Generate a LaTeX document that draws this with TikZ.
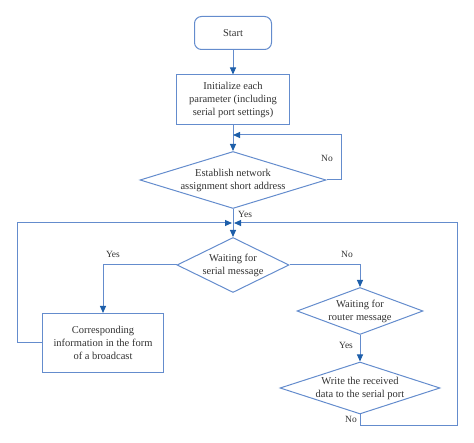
\documentclass[tikz,border=0pt]{standalone}
\usepackage{fontspec}
\setmainfont{Liberation Serif}
\usetikzlibrary{shapes.geometric,arrows.meta}
\definecolor{flowline}{RGB}{100,140,205}
\definecolor{flowtip}{RGB}{30,95,170}
\definecolor{flowtext}{RGB}{50,50,50}
\begin{document}
\begin{tikzpicture}[x=1pt,y=-1pt,
  box/.style={draw=flowline, line width=1pt, rectangle, align=center, inner sep=0pt,
    text=flowtext, font=\fontsize{10.5}{13}\selectfont},
  cond/.style={draw=flowline, line width=1pt, diamond, align=center,
    inner xsep=-16pt, inner ysep=-6pt, text=flowtext, font=\fontsize{10.5}{13}\selectfont},
  tag/.style={text=flowtext, inner sep=0pt, font=\fontsize{9.5}{11}\selectfont},
  flow/.style={draw=flowline, line width=1pt, -{Triangle[color=flowtip,length=7pt,width=6pt]}},
  link/.style={draw=flowline, line width=1pt}]
\useasboundingbox (0,0) rectangle (474,443);

% steps
\node[box, rounded corners=7pt, minimum width=77pt, minimum height=33pt] (start) at (233,33) {Start};
\node[box, minimum width=113pt, minimum height=50pt] (init) at (233,100) {Initialize each\\parameter (including\\serial port settings)};
\node[cond, aspect=3.26, minimum width=186pt, minimum height=57pt] (net) at (233,180) {Establish network\\assignment short address};
\node[cond, aspect=2.04, minimum width=112pt, minimum height=55pt] (serial) at (233,265) {Waiting for\\serial message};
\node[box, minimum width=121pt, minimum height=59pt] (bcast) at (103,343) {Corresponding\\information in the form\\of a broadcast};
\node[cond, aspect=2.68, minimum width=126pt, minimum height=47pt] (router) at (360,311) {Waiting for\\router message};
\node[cond, aspect=3.08, minimum width=160pt, minimum height=52pt] (write) at (360,388) {Write the received\\data to the serial port};

% corners
\coordinate (netback) at (341,135);
\coordinate (netin) at (233,135);
\coordinate (merge) at (233,223);
\coordinate (leftup) at (17,223);
\coordinate (rightdown) at (457,426);
\coordinate (rightup) at (457,223);

% labels
\node[tag] (no1) at (327,158) {No};
\node[tag, anchor=west] (yes1) at (238,214) {Yes};
\node[tag] (yes2) at (113,254) {Yes};
\node[tag] (no2) at (347,254) {No};
\node[tag] (yes3) at (346,345) {Yes};
\node[tag] (no3) at (351,419) {No};

% connectors
\path[flow] (start) -- (init);
\path[flow] (init) -- (net);
\path[flow] (net.east) -| (netback) -- (netin);
\path[flow] (net) -- (serial);
\path[flow] (serial.west) -| (bcast.north);
\path[flow, shorten >=1pt] (bcast.west) -| (leftup) -- (merge);
\path[flow] (serial.east) -| (router.north);
\path[flow] (router) -- (write);
\path[flow, shorten >=1pt] (write.south) |- (rightdown) -- (rightup) -- (merge);
\end{tikzpicture}
\end{document}
